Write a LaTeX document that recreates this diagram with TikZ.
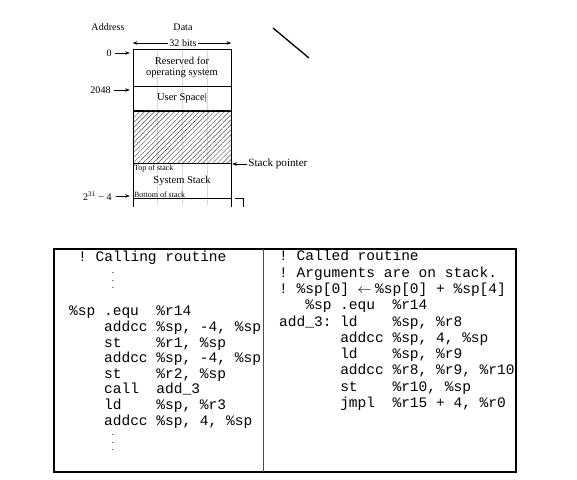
\documentclass[tikz,border=0pt]{standalone}
\usepackage{fontspec}
\setmainfont{Liberation Serif}
\setmonofont{Liberation Mono}
\usetikzlibrary{positioning}
\usetikzlibrary{arrows.meta}
\usetikzlibrary{patterns.meta}

\newcommand{\stackdots}{\vbox{\baselineskip=6.4pt\lineskiplimit=-20pt\hbox{.}\hbox{.}\hbox{.}}}

\begin{document}
\begin{tikzpicture}[
  x=0.03cm, y=-0.03cm,
  lbl/.style={inner sep=1pt, font=\fontsize{8.6}{10}\selectfont},
  mem/.style={rectangle, draw, thin, minimum width=2.94cm, inner sep=0pt, align=center, font=\fontsize{9}{9.5}\selectfont},
  tiny/.style={inner sep=1pt, font=\fontsize{6.8}{7}\selectfont},
  arr/.style={-{Stealth[length=4pt,width=3pt]}, thin},
  code/.style={inner sep=0pt, font=\ttfamily\fontsize{12.4}{13.3}\selectfont},
  vdots/.style={inner sep=0pt, font=\fontsize{6}{6}\bfseries},
]
  \useasboundingbox (0,0) rectangle (577,480);

  \foreach \x in {157,182,207}
    \draw[black!15] (\x,49) -- (\x,205);

  \node[mem, minimum height=1.11cm] (reserved) at (182,67.5) {Reserved for\\operating system};
  \node[mem, minimum height=0.72cm, below=0pt of reserved] (user) {User Space|};
  \node[mem, minimum height=1.56cm, below=0pt of user,
        pattern={Lines[angle=45,distance=3pt,line width=0.4pt]}, pattern color=black!70] (free) {};
  \node[mem, minimum height=1.05cm, below=0pt of free] (stack) {System Stack};
  \node[tiny, anchor=north west] (tos) at (stack.north west) {Top of stack};
  \node[tiny, anchor=south west] (bos) at (stack.south west) {Bottom of stack};

  \draw[thin] (stack.south west) -- ++(0,8);
  \draw[thin] (stack.south east) -- ++(0,8);
  \draw[thin] ([xshift=0.12cm]stack.south east) -| ++(8,8);

  \node[lbl] (addr) at (108,27) {Address};
  \node[lbl] (data) at (183,27) {Data};
  \node[lbl, fill=white] (bits) at (183,43) {32 bits};
  \draw[arr] (bits.west) -- (bits.west -| reserved.west);
  \draw[arr] (bits.east) -- (bits.east -| reserved.east);

  \node[lbl, anchor=east] (a0) at (113,53) {0};
  \node[lbl, anchor=east] (a2048) at (112,90) {2048};
  \node[lbl, anchor=east] (atop) at (113,196) {2\textsuperscript{31} − 4};
  \draw[arr, shorten >=0.09cm] ([xshift=0.05cm]a0.east) -- (a0.east -| reserved.west);
  \draw[arr, shorten >=0.09cm] ([xshift=0.05cm]a2048.east) -- (a2048.east -| user.west);
  \draw[arr, shorten >=0.09cm] ([xshift=0.1cm]atop.east) -- (atop.east -| stack.west);

  \node[lbl, anchor=west, font=\fontsize{9.5}{11}\selectfont] (sp) at (247,164) {Stack pointer};
  \draw[arr, shorten >=0.03cm] (sp.west) -- (sp.west -| stack.east);

  \draw[line width=1.1pt] (273,28) -- (309,58);

  \draw[line width=1.3pt] (54,249) rectangle (516,472);
  \draw[black!70, line width=0.6pt] (263,249) -- (263,472);

  \node[code, anchor=base west] (callhdr) at (78,262) {! Calling routine};
  \node[vdots] (dotsa) at (113,281) {\stackdots};
  \node[code, anchor=base west] (caller) at (69,316) {
    \begin{tabular}[t]{@{}p{2.4em}@{}p{3.6em}@{}l@{}}
      \%sp & .equ  & \%r14 \\
           & addcc & \%sp, -4, \%sp \\
           & st    & \%r1, \%sp \\
           & addcc & \%sp, -4, \%sp \\
           & st    & \%r2, \%sp \\
           & call  & add\_3 \\
           & ld    & \%sp, \%r3 \\
           & addcc & \%sp, 4, \%sp \\
    \end{tabular}
  };
  \node[vdots] (dotsb) at (113,443) {\stackdots};

  \node[code, anchor=base west, font=\ttfamily\fontsize{12.4}{13.9}\selectfont] (callee) at (279,261) {
    \begin{tabular}[t]{@{}p{4.2em}@{}p{3.6em}@{}l@{}}
      \multicolumn{3}{@{}l@{}}{! Called routine} \\
      \multicolumn{3}{@{}l@{}}{! Arguments are on stack.} \\
      \multicolumn{3}{@{}l@{}}{! \%sp[0] \makebox[1.2em][l]{$\leftarrow$}\%sp[0] + \%sp[4]} \\
      \hspace*{1.8em}\%sp & .equ & \%r14 \\
      add\_3: & ld    & \%sp, \%r8 \\
              & addcc & \%sp, 4, \%sp \\
              & ld    & \%sp, \%r9 \\
              & addcc & \%r8, \%r9, \%r10 \\
              & st    & \%r10, \%sp \\
              & jmpl  & \%r15 + 4, \%r0 \\
    \end{tabular}
  };
\end{tikzpicture}
\end{document}
